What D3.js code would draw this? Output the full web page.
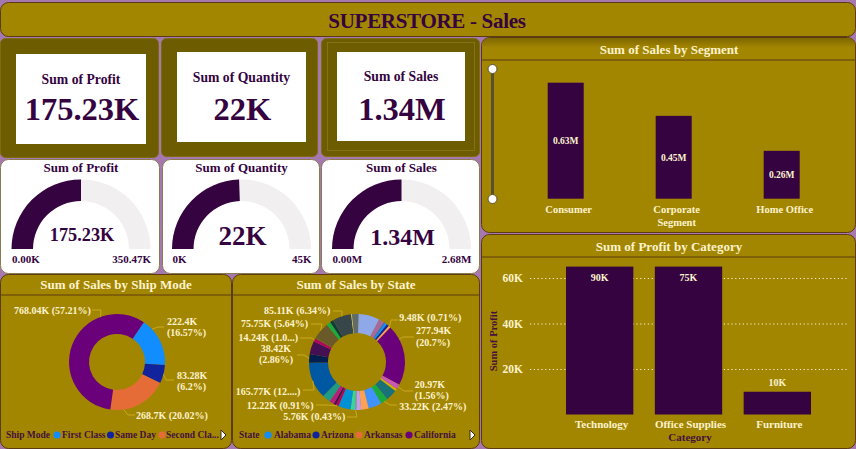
<!DOCTYPE html>
<html>
<head>
<meta charset="utf-8">
<script src="https://cdn.jsdelivr.net/npm/d3@7"></script>
<style>
body { margin: 0; background: #a678b0; }
svg { display: block; }
text { font-family: "Liberation Serif", serif; font-weight: bold; }
</style>
</head>
<body>
<div id="plot"></div>
<script>
// values
var kpiNames = ["Sum of Profit", "Sum of Quantity", "Sum of Sales"];
var kpiLabels = ["175.23K", "22K", "1.34M"];
var gaugeValues = [175.23, 22, 1.34];
var gaugeMax = [350.47, 45, 2.68];
var gaugeMinLabels = ["0.00K", "0K", "0.00M"];
var gaugeMaxLabels = ["350.47K", "45K", "2.68M"];

var shipModes = ["First Class", "Same Day", "Second Class", "Standard Class"];
var shipSales = [222.4, 83.28, 268.7, 768.04];
var shipLabels = [["222.4K", "(16.57%)"], ["83.28K", "(6.2%)"], ["268.7K (20.02%)"], ["768.04K (57.21%)"]];

var states = ["Alabama", "Arizona", "Arkansas", "California", "Colorado", "Connecticut", "Delaware", "Florida", "Georgia",
    "Idaho", "Illinois", "Indiana", "Iowa", "Kansas", "Kentucky", "Louisiana", "Maine", "Maryland", "Massachusetts",
    "Michigan", "Minnesota", "New York", "North Carolina", "Ohio", "Oklahoma", "Oregon", "Pennsylvania", "Rhode Island",
    "Tennessee", "Texas", "Utah", "Virginia", "Washington", "Wisconsin"];
var stateSales = [13, 11, 9.48, 277.94, 20.97, 1, 10, 52, 33.22, 60, 34, 22, 5.76, 20, 56, 12.22, 11, 22, 37,
    165.77, 38.42, 60, 14.24, 5, 75.75, 19, 15, 85.11, 4, 30, 95, 26, 1, 1];
var stateColors = ["#118DFF", "#12239E", "#FFA058", "#6B007B", "#C858B8", "#744EC2", "#D9B300", "#197278", "#1AAB40",
    "#4092FF", "#FFA058", "#C0A0E8", "#8A8ACF", "#35D69A", "#0091D5", "#B60064", "#450F54", "#B6207A", "#1F9A85",
    "#0057A2", "#002050", "#450F54", "#B60064", "#6A5A29", "#6A5A29", "#1AAB40", "#0C3D37", "#374649", "#E8D060",
    "#5F6B6D", "#8FA8E8", "#A66999", "#118DFF", "#12239E"];
var stateLabelText = {
    "Arkansas": ["9.48K (0.71%)"], "California": ["277.94K", "(20.7%)"], "Colorado": ["20.97K", "(1.56%)"],
    "Georgia": ["33.22K (2.47%)"], "Iowa": ["5.76K (0.43%)"], "Louisiana": ["12.22K (0.91%)"],
    "Michigan": ["165.77K (12....)"], "Minnesota": ["38.42K", "(2.86%)"], "North Carolina": ["14.24K (1.0...)"],
    "Oklahoma": ["75.75K (5.64%)"], "Rhode Island": ["85.11K (6.34%)"]
};

var segments = ["Consumer", "Corporate", "Home Office"];
var segmentSales = [0.63, 0.45, 0.26];
var categories = ["Technology", "Office Supplies", "Furniture"];
var categoryProfit = [90, 75, 10];
var profitTicks = [20, 40, 60];

var width = 856, height = 449;
var gold = "#a38600", darkGold = "#6e5c00", plum = "#35033f", cream = "#fdf3cf", edge = "#5c3a12";

var svg = d3.select("#plot").append("svg").attr("width", width).attr("height", height);

var grad = svg.append("defs").append("linearGradient").attr("id", "head")
    .attr("x1", 0).attr("x2", 0).attr("y1", 0).attr("y2", 1);
grad.append("stop").attr("offset", "0%").attr("stop-color", "#7d6700");
grad.append("stop").attr("offset", "45%").attr("stop-color", gold);

function panel(x, y, w, h, fill, stroke, r) {
    svg.append("rect").attr("x", x + 0.5).attr("y", y + 0.5).attr("width", w - 1).attr("height", h - 1)
        .attr("rx", r === undefined ? 8 : r).attr("fill", fill).attr("stroke", stroke).attr("stroke-width", 1);
}

function label(g, x, y, txt, size, color, anchor) {
    return g.append("text").attr("x", x).attr("y", y).attr("font-size", size).attr("fill", color)
        .attr("text-anchor", anchor || "middle").text(txt);
}

// chart panel with the darker title strip and rule
function chartPanel(x, y, w, h, title, ruleY, titleY, titleSize) {
    panel(x, y, w, h, gold, edge);
    svg.append("line").attr("x1", x + 1).attr("x2", x + w - 1).attr("y1", ruleY).attr("y2", ruleY)
        .attr("stroke", edge).attr("stroke-width", 1);
    label(svg, x + w / 2, titleY, title, titleSize || 13, cream);
}

// header
panel(0, 2, 856, 35, gold, edge);
label(svg, 427, 28, "SUPERSTORE - Sales", 21, plum).attr("letter-spacing", -0.3);

// KPI cards
var kpiPanels = [[0, 38, 159, 120], [161, 38, 157, 119], [321, 38, 159, 119]];
var kpiBoxes = [[16, 54, 130, 90], [177, 52, 129, 90], [337, 52, 128, 89]];
var kpiTitleY = [84, 82, 81];
kpiNames.forEach(function(name, i) {
    var p = kpiPanels[i], b = kpiBoxes[i];
    panel(p[0], p[1], p[2], p[3], darkGold, "#7f6c10", 5);
    svg.append("rect").attr("x", b[0]).attr("y", b[1]).attr("width", b[2]).attr("height", b[3]).attr("fill", "#fff");
    var cx = b[0] + b[2] / 2;
    label(svg, cx, kpiTitleY[i], name, 13.7, plum);
    label(svg, cx + 1, 120, kpiLabels[i], 32.5, plum);
});
svg.append("rect").attr("x", 327.5).attr("y", 42.5).attr("width", 147).attr("height", 108)
    .attr("fill", "none").attr("stroke", "#8f7c20").attr("stroke-width", 0.7);

// gauges
var gaugeCards = [[0, 159, 160, 115], [162, 159, 158, 115], [321, 159, 159, 115]];
var gaugeCx = [81, 241.5, 401.5];
var gaugeSizes = [18.3, 27, 24];
var gaugeArc = d3.arc().innerRadius(48).outerRadius(69.5);
gaugeValues.forEach(function(v, i) {
    var c = gaugeCards[i], cx = gaugeCx[i];
    panel(c[0], c[1], c[2], c[3], "#fff", "#8a7a50");
    var angle = d3.scaleLinear().domain([0, gaugeMax[i]]).range([-Math.PI / 2, Math.PI / 2]);
    var g = svg.append("g").attr("transform", "translate(" + cx + ",249)");
    g.append("path").attr("fill", "#f1efef").attr("d", gaugeArc({startAngle: -Math.PI / 2, endAngle: Math.PI / 2}));
    g.append("path").attr("fill", plum).attr("d", gaugeArc({startAngle: -Math.PI / 2, endAngle: angle(v)}));
    label(svg, cx, 172, kpiNames[i], 13, plum);
    label(svg, cx + 1, i === 0 ? 241 : 245, kpiLabels[i], gaugeSizes[i], plum);
    label(svg, cx - 69, 263, gaugeMinLabels[i], 11, plum, "start");
    label(svg, cx + 70, 263, gaugeMaxLabels[i], 11, plum, "end");
});

// donut helpers
function donut(cx, cy, inner, outer, values, colors, startDeg) {
    var start = startDeg * Math.PI / 180;
    var pie = d3.pie().sort(null).startAngle(start).endAngle(start + 2 * Math.PI);
    var arcs = pie(values);
    var arc = d3.arc().innerRadius(inner).outerRadius(outer);
    svg.append("g").attr("transform", "translate(" + cx + "," + cy + ")")
        .selectAll("path").data(arcs).enter().append("path")
        .attr("d", arc).attr("fill", function(d, i) { return colors[i]; });
    return arcs;
}

// leader line from the rim of a slice to a label, with one elbow.
// big slices do not leave from their middle, so deg can override the rim angle
function leader(cx, cy, r, d, endX, endY, elbowX, deg) {
    var a = deg === undefined ? (d.startAngle + d.endAngle) / 2 : deg * Math.PI / 180;
    var px = cx + Math.sin(a) * r, py = cy - Math.cos(a) * r;
    svg.append("path").attr("fill", "none").attr("stroke", "#c9a820").attr("stroke-width", 1)
        .attr("d", "M" + px + "," + py + "L" + elbowX + "," + endY + "L" + endX + "," + endY);
}

function multiLabel(lines, x, ys, anchor) {
    lines.forEach(function(t, i) { label(svg, x, ys[i], t, 10, cream, anchor); });
}

function legend(items, y) {
    items.forEach(function(it) {
        if (it.color) svg.append("circle").attr("cx", it.dot).attr("cy", y - 3).attr("r", 3.6).attr("fill", it.color);
        label(svg, it.x, y, it.text, 9.5, "#43103f", "start");
    });
}

function pager(x, y) {
    svg.append("path").attr("d", "M" + x + "," + (y - 5) + "L" + (x + 5) + "," + y + "L" + x + "," + (y + 5) + "Z")
        .attr("fill", "#fff").attr("stroke", "#3a2a10").attr("stroke-width", 1);
}

// ship mode donut
chartPanel(0, 274, 232, 175, "Sum of Sales by Ship Mode", 295, 289);
var shipColors = ["#118DFF", "#12239E", "#E66C37", "#6B007B"];
var shipArcs = donut(117, 362, 28, 48, shipSales, shipColors, 34);
leader(117, 362, 48, shipArcs[0], 164, 327, 158, 47);
leader(117, 362, 48, shipArcs[1], 174, 380, 166);
leader(117, 362, 48, shipArcs[2], 135, 415, 128, 172);
leader(117, 362, 48, shipArcs[3], 92, 310, 101, 340);
multiLabel(shipLabels[0], 167, [325, 336], "start");
multiLabel(shipLabels[1], 177, [379, 390], "start");
multiLabel(shipLabels[2], 136, [419], "start");
multiLabel(shipLabels[3], 14, [313.5], "start");
legend([
    {x: 6, text: "Ship Mode"},
    {x: 62, dot: 57, color: shipColors[0], text: shipModes[0]},
    {x: 115, dot: 110.5, color: shipColors[1], text: shipModes[1]},
    {x: 166, dot: 162, color: shipColors[2], text: "Second Cla..."}
], 438);
pager(221, 435);

// state donut
chartPanel(232, 274, 248, 175, "Sum of Sales by State", 295, 289);
var stateArcs = donut(357, 362, 29, 48, stateSales, stateColors, 35);
var stateLabelSpots = [
    {state: "Arkansas", x: 399.3, ys: [320.7], anchor: "start", endX: 398, endY: 320, elbow: 391},
    {state: "California", x: 416, ys: [334, 346], anchor: "start", endX: 414, endY: 337, elbow: 403, deg: 62},
    {state: "Colorado", x: 414.7, ys: [387.7, 399], anchor: "start", endX: 413, endY: 391, elbow: 404},
    {state: "Georgia", x: 399.3, ys: [410], anchor: "start", endX: 397, endY: 405, elbow: 390},
    {state: "Iowa", x: 345.3, ys: [420], anchor: "end", endX: 347, endY: 417, elbow: 357},
    {state: "Louisiana", x: 313.7, ys: [408.7], anchor: "end", endX: 316, endY: 405, elbow: 327},
    {state: "Michigan", x: 300.3, ys: [394.7], anchor: "end", endX: 303, endY: 390, elbow: 314},
    {state: "Minnesota", x: 276, ys: [352, 363], anchor: "middle", endX: 297, endY: 355, elbow: 304},
    {state: "North Carolina", x: 298, ys: [341], anchor: "end", endX: 300, endY: 338, elbow: 312},
    {state: "Oklahoma", x: 308, ys: [327], anchor: "end", endX: 311, endY: 324, elbow: 322},
    {state: "Rhode Island", x: 330.3, ys: [313.7], anchor: "end", endX: 333, endY: 311, elbow: 342}
];
stateLabelSpots.forEach(function(s) {
    leader(357, 362, 48, stateArcs[states.indexOf(s.state)], s.endX, s.endY, s.elbow, s.deg);
    multiLabel(stateLabelText[s.state], s.x, s.ys, s.anchor);
});
legend([
    {x: 239, text: "State"},
    {x: 274, dot: 268, color: stateColors[0], text: states[0]},
    {x: 321, dot: 316, color: stateColors[1], text: states[1]},
    {x: 364, dot: 359, color: "#E66C37", text: states[2]},
    {x: 414, dot: 409, color: stateColors[3], text: states[3]}
], 438);
pager(470, 435);

// segment bars
panel(481, 37, 375, 196, gold, edge);
svg.append("rect").attr("x", 482).attr("y", 38).attr("width", 373).attr("height", 22).attr("rx", 7).attr("fill", "url(#head)");
svg.append("line").attr("x1", 482).attr("x2", 855).attr("y1", 60).attr("y2", 60).attr("stroke", edge);
label(svg, 669, 54, "Sum of Sales by Segment", 13, cream);

var xSeg = d3.scaleBand().domain(segments).range([511.7, 835.7]).paddingInner(2 / 3).paddingOuter(1 / 3);
var ySeg = d3.scaleLinear().domain([0, 0.63]).range([198.7, 82.7]);
svg.selectAll(".seg").data(segments).enter().append("rect").attr("class", "seg")
    .attr("x", function(d) { return xSeg(d); })
    .attr("y", function(d, i) { return ySeg(segmentSales[i]); })
    .attr("width", xSeg.bandwidth())
    .attr("height", function(d, i) { return ySeg(0) - ySeg(segmentSales[i]); })
    .attr("fill", plum);
segments.forEach(function(s, i) {
    var cx = xSeg(s) + xSeg.bandwidth() / 2;
    label(svg, cx, (ySeg(segmentSales[i]) + ySeg(0)) / 2 + 3.5, segmentSales[i].toFixed(2) + "M", 9.5, cream);
    label(svg, cx + 3, 213, s, 10.5, cream);
});
label(svg, xSeg("Corporate") + xSeg.bandwidth() / 2 + 3, 226, "Segment", 10.5, cream);

// range slider
svg.append("line").attr("x1", 492.5).attr("x2", 492.5).attr("y1", 69).attr("y2", 199).attr("stroke", "#5a5030").attr("stroke-width", 3);
[69, 199].forEach(function(cy) {
    svg.append("circle").attr("cx", 492.5).attr("cy", cy).attr("r", 4.5).attr("fill", "#fff").attr("stroke", "#5a5030");
});

// profit bars
panel(481, 234, 375, 215, gold, edge);
svg.append("line").attr("x1", 482).attr("x2", 855).attr("y1", 257).attr("y2", 257).attr("stroke", edge);
label(svg, 669, 251, "Sum of Profit by Category", 13, cream);

var xCat = d3.scaleBand().domain(categories).range([529.5, 847.5]).paddingInner(0.242).paddingOuter(0.411);
var yCat = d3.scaleLinear().domain([0, 65]).range([414.5, 266.6]).clamp(true);

var yAxis = svg.append("g").attr("transform", "translate(530,0)")
    .call(d3.axisLeft(yCat).tickValues(profitTicks).tickSize(-318).tickFormat(function(d) { return d + "K"; }));
yAxis.select(".domain").remove();
yAxis.selectAll("line").attr("stroke", cream).attr("stroke-width", 1.2).attr("stroke-dasharray", "1.2,2.6");
yAxis.selectAll("text").attr("x", -7).attr("font-size", 11.5).attr("fill", cream).style("font-family", '"Liberation Serif", serif');

svg.selectAll(".cat").data(categories).enter().append("rect").attr("class", "cat")
    .attr("x", function(d) { return xCat(d); })
    .attr("y", function(d, i) { return yCat(categoryProfit[i]); })
    .attr("width", xCat.bandwidth())
    .attr("height", function(d, i) { return yCat(0) - yCat(categoryProfit[i]); })
    .attr("fill", plum);
categories.forEach(function(c, i) {
    var cx = xCat(c) + xCat.bandwidth() / 2;
    var clipped = categoryProfit[i] > yCat.domain()[1];
    label(svg, cx, clipped ? 281 : yCat(categoryProfit[i]) - 6, categoryProfit[i] + "K", 10, cream);
    label(svg, cx + 2, 428, c, 11, cream);
});
label(svg, 690, 441, "Category", 11, "#43103f");
svg.append("text").attr("transform", "translate(497,341) rotate(-90)").attr("text-anchor", "middle")
    .attr("font-size", 10.5).attr("fill", "#43103f").text("Sum of Profit");
</script>
</body>
</html>
